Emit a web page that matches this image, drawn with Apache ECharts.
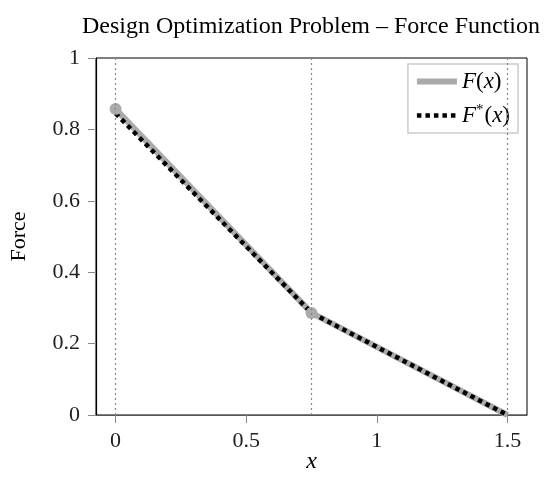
<!DOCTYPE html>
<html>
<head>
<meta charset="utf-8">
<script src="https://cdn.jsdelivr.net/npm/echarts@6/dist/echarts.min.js"></script>
<style>html,body{margin:0;padding:0;background:#fff;}#c{width:550px;height:479px;}</style>
</head>
<body>
<div id="c"></div>
<script>
const xValues = [0, 0.75, 1.5];
const fValues = [0.857, 0.286, 0];
const fStarValues = [0.845, 0.286, 0];
const markerX = [0, 0.75];
const markerY = [0.857, 0.286];
const guideX = [0, 0.75, 1.5];
const xTicks = [0, 0.5, 1, 1.5];
const yTicks = [0, 0.2, 0.4, 0.6, 0.8, 1];

const serif = '"Liberation Serif", "DejaVu Serif", serif';
const chart = echarts.init(document.getElementById('c'));
const fmtNum = v => String(Math.round(v * 100) / 100);

chart.setOption({
  animation: false,
  backgroundColor: '#fff',
  title: {
    text: 'Design Optimization Problem – Force Function',
    left: 306, textAlign: 'center', top: 10,
    textStyle: { fontFamily: serif, fontSize: 24, fontWeight: 'normal', color: '#000' }
  },
  grid: { left: 96, right: 23, top: 58, bottom: 64, outerBoundsMode: 'none', containLabel: false,
    show: true, borderColor: '#000', borderWidth: 1, backgroundColor: 'transparent' },
  legend: {
    right: 32, top: 64, orient: 'vertical',
    backgroundColor: '#fff', borderColor: '#ccc', borderWidth: 1.5,
    padding: [6, 8, 6, 6], itemGap: 10, itemWidth: 40, itemHeight: 20,
    data: [
      { name: 'F', lineStyle: { width: 6 } },
      { name: 'Fstar', lineStyle: { width: 4.5 } }
    ],
    itemStyle: { color: 'rgba(0,0,0,0)', borderWidth: 0, opacity: 0 },
    formatter: name => name === 'F' ? '{i|F}({i|x})' : '{i|F}{s|*}({i|x})',
    textStyle: {
      fontFamily: serif, fontSize: 23, color: '#000',
      rich: {
        i: { fontFamily: serif, fontStyle: 'italic', fontSize: 23 },
        s: { fontFamily: serif, fontSize: 15, verticalAlign: 'top', padding: [0, 1, 10, 0] }
      }
    }
  },
  xAxis: {
    type: 'value', min: -0.075, max: 1.575,
    name: 'x', nameLocation: 'middle', nameGap: 35, nameMoveOverlap: false,
    nameTextStyle: { fontFamily: serif, fontStyle: 'italic', fontSize: 24, color: '#000' },
    axisLine: { show: true, onZero: false, lineStyle: { color: '#555', width: 1.2 } },
    axisTick: { show: true, inside: false, length: 8, customValues: xTicks, lineStyle: { color: '#888' } },
    axisLabel: { customValues: xTicks, formatter: fmtNum, margin: 15, fontFamily: serif, fontSize: 22, color: '#222' },
    splitLine: { show: false }
  },
  yAxis: {
    type: 'value', min: 0, max: 1, interval: 0.2,
    name: 'Force', nameLocation: 'middle', nameGap: 66, nameRotate: 90, nameMoveOverlap: false,
    nameTextStyle: { fontFamily: serif, fontSize: 22, color: '#000' },
    axisLine: { show: true, onZero: false, lineStyle: { color: '#000', width: 1.2 } },
    axisTick: { show: true, inside: false, length: 8, customValues: yTicks, lineStyle: { color: '#888' } },
    axisLabel: { customValues: yTicks, formatter: fmtNum, margin: 16, fontFamily: serif, fontSize: 22, color: '#222' },
    splitLine: { show: false }
  },
  series: [
    {
      name: 'F', type: 'line', symbol: 'none', z: 2,
      data: xValues.map((x, i) => [x, fValues[i]]),
      lineStyle: { color: '#aaaaaa', width: 6 },
      itemStyle: { color: '#aaaaaa' },
      markLine: {
        silent: true, symbol: 'none', label: { show: false },
        lineStyle: { color: '#888', type: [2, 3], width: 1.2 },
        data: guideX.map(v => ({ xAxis: v }))
      }
    },
    {
      name: 'Fstar', type: 'line', symbol: 'none', z: 3,
      data: xValues.map((x, i) => [x, fStarValues[i]]),
      lineStyle: { color: '#000', width: 4.5, type: [4.5, 4], cap: 'butt' },
      itemStyle: { color: '#000' }
    },
    {
      name: 'markers', type: 'scatter', z: 4, symbol: 'circle', symbolSize: 12,
      data: markerX.map((x, i) => [x, markerY[i]]),
      itemStyle: { color: '#aaaaaa', opacity: 1 }
    }
  ]
});
</script>
</body>
</html>
